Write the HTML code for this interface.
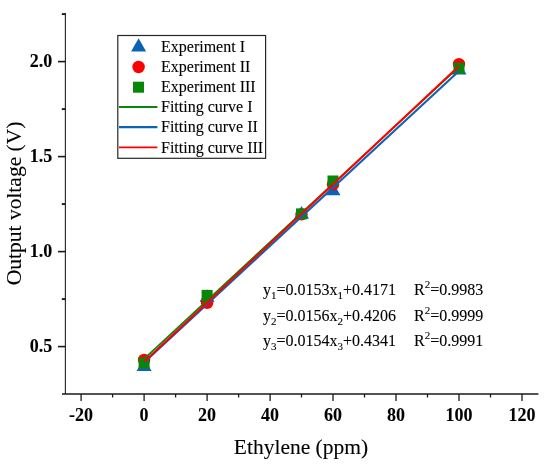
<!DOCTYPE html><html><head><meta charset="utf-8"><style>html,body{margin:0;padding:0;background:#fff;}svg{display:block;}text{font-family:"Liberation Serif","Times New Roman",serif;fill:#000;stroke:#000;stroke-width:0.1px;}.tl{font-weight:bold;font-size:18px;}.ti{font-size:21.5px;}.lg{font-size:16px;}.eq{font-size:16px;}</style></head><body>
<svg width="550" height="465" viewBox="0 0 550 465">
<rect width="550" height="465" fill="#fefffe"/>
<line x1="65.4" y1="13.100000000000001" x2="65.4" y2="394.0" stroke="#2a2a2a" stroke-width="1.15"/>
<line x1="62" y1="394.0" x2="538.4" y2="394.0" stroke="#1a1a1a" stroke-width="1.6"/>
<line x1="58" y1="346.6" x2="65.4" y2="346.6" stroke="#1a1a1a" stroke-width="1.6"/>
<text class="tl" x="52.3" y="352.0" text-anchor="end">0.5</text>
<line x1="58" y1="251.6" x2="65.4" y2="251.6" stroke="#1a1a1a" stroke-width="1.6"/>
<text class="tl" x="52.3" y="257.0" text-anchor="end">1.0</text>
<line x1="58" y1="156.6" x2="65.4" y2="156.6" stroke="#1a1a1a" stroke-width="1.6"/>
<text class="tl" x="52.3" y="162.0" text-anchor="end">1.5</text>
<line x1="58" y1="61.6" x2="65.4" y2="61.6" stroke="#1a1a1a" stroke-width="1.6"/>
<text class="tl" x="52.3" y="67.0" text-anchor="end">2.0</text>
<line x1="61.8" y1="299.1" x2="65.4" y2="299.1" stroke="#1a1a1a" stroke-width="1.9"/>
<line x1="61.8" y1="204.1" x2="65.4" y2="204.1" stroke="#1a1a1a" stroke-width="1.9"/>
<line x1="61.8" y1="109.1" x2="65.4" y2="109.1" stroke="#1a1a1a" stroke-width="1.9"/>
<line x1="61.8" y1="14.1" x2="65.4" y2="14.1" stroke="#1a1a1a" stroke-width="1.9"/>
<line x1="81.1" y1="394.0" x2="81.1" y2="401" stroke="#1a1a1a" stroke-width="1.3"/>
<text class="tl" x="81.1" y="420.5" text-anchor="middle">-20</text>
<line x1="144.1" y1="394.0" x2="144.1" y2="401" stroke="#1a1a1a" stroke-width="1.3"/>
<text class="tl" x="144.1" y="420.5" text-anchor="middle">0</text>
<line x1="207.1" y1="394.0" x2="207.1" y2="401" stroke="#1a1a1a" stroke-width="1.3"/>
<text class="tl" x="207.1" y="420.5" text-anchor="middle">20</text>
<line x1="270.1" y1="394.0" x2="270.1" y2="401" stroke="#1a1a1a" stroke-width="1.3"/>
<text class="tl" x="270.1" y="420.5" text-anchor="middle">40</text>
<line x1="333.0" y1="394.0" x2="333.0" y2="401" stroke="#1a1a1a" stroke-width="1.3"/>
<text class="tl" x="333.0" y="420.5" text-anchor="middle">60</text>
<line x1="396.0" y1="394.0" x2="396.0" y2="401" stroke="#1a1a1a" stroke-width="1.3"/>
<text class="tl" x="396.0" y="420.5" text-anchor="middle">80</text>
<line x1="459.0" y1="394.0" x2="459.0" y2="401" stroke="#1a1a1a" stroke-width="1.3"/>
<text class="tl" x="459.0" y="420.5" text-anchor="middle">100</text>
<line x1="522.0" y1="394.0" x2="522.0" y2="401" stroke="#1a1a1a" stroke-width="1.3"/>
<text class="tl" x="522.0" y="420.5" text-anchor="middle">120</text>
<line x1="112.6" y1="394.0" x2="112.6" y2="397.5" stroke="#1a1a1a" stroke-width="1.3"/>
<line x1="175.6" y1="394.0" x2="175.6" y2="397.5" stroke="#1a1a1a" stroke-width="1.3"/>
<line x1="238.6" y1="394.0" x2="238.6" y2="397.5" stroke="#1a1a1a" stroke-width="1.3"/>
<line x1="301.5" y1="394.0" x2="301.5" y2="397.5" stroke="#1a1a1a" stroke-width="1.3"/>
<line x1="364.5" y1="394.0" x2="364.5" y2="397.5" stroke="#1a1a1a" stroke-width="1.3"/>
<line x1="427.5" y1="394.0" x2="427.5" y2="397.5" stroke="#1a1a1a" stroke-width="1.3"/>
<line x1="490.5" y1="394.0" x2="490.5" y2="397.5" stroke="#1a1a1a" stroke-width="1.3"/>
<text class="ti" x="301" y="453.5" text-anchor="middle">Ethylene (ppm)</text>
<text class="ti" transform="translate(20.8,203.4) rotate(-90)" text-anchor="middle">Output voltage (V)</text>
<polygon points="144.1,358.0 136.6,371.0 151.6,371.0" fill="#0b63b6"/>
<polygon points="207.1,289.2 199.6,301.8 214.6,301.8" fill="#0b63b6"/>
<polygon points="301.5,206.1 294.0,218.8 309.0,218.8" fill="#0b63b6"/>
<polygon points="333.0,182.5 325.5,195.3 340.5,195.3" fill="#0b63b6"/>
<polygon points="459.0,61.5 451.5,74.5 466.5,74.5" fill="#0b63b6"/>
<circle cx="144.1" cy="360.0" r="6.2" fill="#ff0000"/>
<circle cx="207.1" cy="302.8" r="6.2" fill="#ff0000"/>
<circle cx="301.5" cy="214.4" r="6.2" fill="#ff0000"/>
<circle cx="333.0" cy="184.3" r="6.2" fill="#ff0000"/>
<circle cx="459.0" cy="64.1" r="6.2" fill="#ff0000"/>
<rect x="138.6" y="357.5" width="11" height="11" fill="#078707"/>
<rect x="201.6" y="289.9" width="11" height="11" fill="#078707"/>
<rect x="296.0" y="208.4" width="11" height="11" fill="#078707"/>
<rect x="327.5" y="175.5" width="11" height="11" fill="#078707"/>
<rect x="453.5" y="62.7" width="11" height="11" fill="#078707"/>
<line x1="144.1" y1="362.4" x2="459.0" y2="71.0" stroke="#0b63b6" stroke-width="2.1"/>
<line x1="144.1" y1="358.8" x2="459.0" y2="67.0" stroke="#078707" stroke-width="1.7"/>
<line x1="144.1" y1="361.8" x2="459.0" y2="66.0" stroke="#ff0000" stroke-width="2.0"/>
<rect x="117.8" y="35.5" width="147.8" height="122.8" fill="none" stroke="#262626" stroke-width="1.2"/>
<polygon points="138.6,38.3 131.1,51.4 146.1,51.4" fill="#0b63b6"/>
<circle cx="138.6" cy="67.0" r="6.2" fill="#ff0000"/>
<rect x="133.0" y="81.7" width="11" height="11" fill="#078707"/>
<line x1="119" y1="107" x2="157.4" y2="107" stroke="#078707" stroke-width="1.8"/>
<line x1="119" y1="127.2" x2="157.4" y2="127.2" stroke="#0b63b6" stroke-width="2.2"/>
<line x1="119" y1="147.4" x2="157.4" y2="147.4" stroke="#ff0000" stroke-width="1.6"/>
<text class="lg" x="161" y="52.2">Experiment I</text>
<text class="lg" x="161" y="72.2">Experiment II</text>
<text class="lg" x="161" y="91.8">Experiment III</text>
<text class="lg" x="161" y="111.9">Fitting curve I</text>
<text class="lg" x="161" y="132.2">Fitting curve II</text>
<text class="lg" x="161" y="152.5">Fitting curve III</text>
<text class="eq" x="263" y="295">y<tspan font-size="11" dy="4">1</tspan><tspan dy="-4">=</tspan>0.0153x<tspan font-size="11" dy="4">1</tspan><tspan dy="-4">+0.4171</tspan></text>
<text class="eq" x="414" y="295">R<tspan font-size="11" dy="-7">2</tspan><tspan dy="7">=0.9983</tspan></text>
<text class="eq" x="263" y="320.5">y<tspan font-size="11" dy="4">2</tspan><tspan dy="-4">=</tspan>0.0156x<tspan font-size="11" dy="4">2</tspan><tspan dy="-4">+0.4206</tspan></text>
<text class="eq" x="414" y="320.5">R<tspan font-size="11" dy="-7">2</tspan><tspan dy="7">=0.9999</tspan></text>
<text class="eq" x="263" y="346">y<tspan font-size="11" dy="4">3</tspan><tspan dy="-4">=</tspan>0.0154x<tspan font-size="11" dy="4">3</tspan><tspan dy="-4">+0.4341</tspan></text>
<text class="eq" x="414" y="346">R<tspan font-size="11" dy="-7">2</tspan><tspan dy="7">=0.9991</tspan></text>
</svg></body></html>
